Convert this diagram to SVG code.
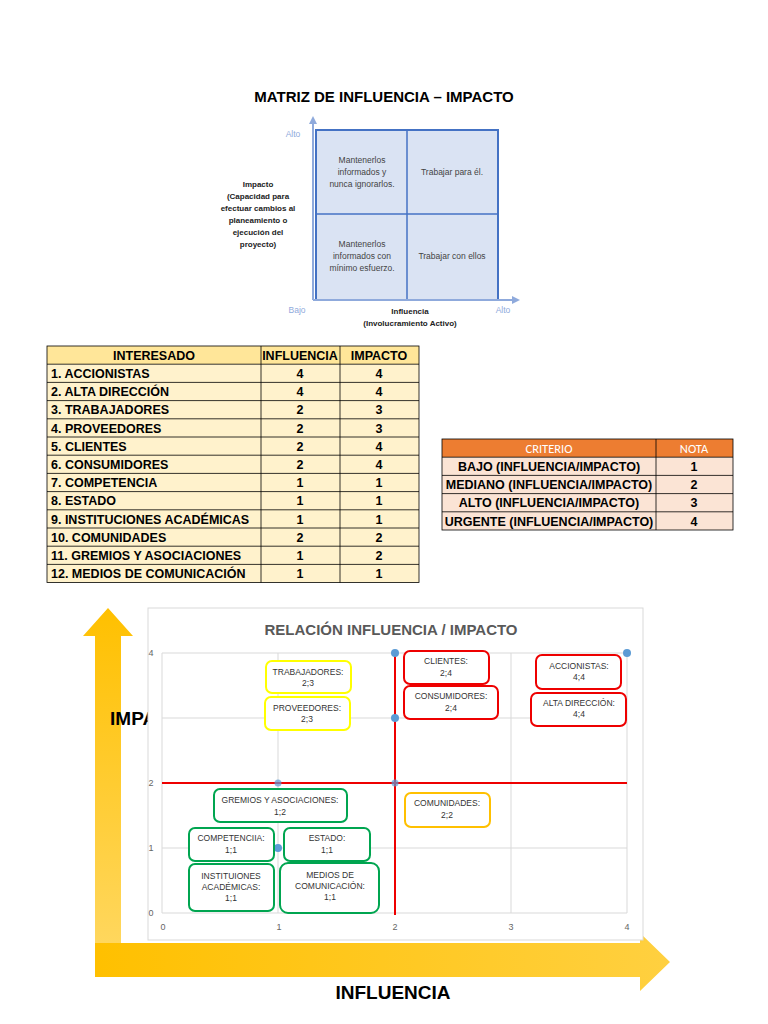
<svg xmlns="http://www.w3.org/2000/svg" width="768" height="1024" viewBox="0 0 768 1024">
<style>
text{font-family:"Liberation Sans",Arial,sans-serif}
.t{font-family:Calibri,"Carlito","Liberation Sans",sans-serif}
.c{font-size:12.5px;font-weight:bold;fill:#000}
.m{font-size:8.5px;fill:#444;text-anchor:middle}
.b{font-size:8px;fill:#222;text-anchor:middle;font-weight:bold}
.cell{stroke:#000;stroke-width:0.8}
.lb{font-size:8.5px;fill:#333;text-anchor:middle}
.ax{font-size:9px;fill:#666;text-anchor:middle}
.gr{stroke:#d9d9d9;stroke-width:1}
</style>
<defs>
<linearGradient id="gv" x1="0" y1="0" x2="0" y2="1"><stop offset="0" stop-color="#ffc000"/><stop offset="1" stop-color="#ffd966"/></linearGradient>
<linearGradient id="gh" x1="0" y1="0" x2="1" y2="0"><stop offset="0" stop-color="#ffc000"/><stop offset="1" stop-color="#ffd040"/></linearGradient>
</defs>
<rect width="768" height="1024" fill="#fff"/>
<text x="384" y="102" text-anchor="middle" font-size="15" font-weight="bold">MATRIZ DE INFLUENCIA – IMPACTO</text>

<g id="matriz">
<rect x="316" y="130" width="182" height="170" fill="#dae3f3" stroke="#4472c4" stroke-width="2"/>
<line x1="407" y1="130" x2="407" y2="300" stroke="#4472c4" stroke-width="1.5"/>
<line x1="316" y1="214" x2="498" y2="214" stroke="#4472c4" stroke-width="1.5"/>
<line x1="313" y1="300" x2="313" y2="122" stroke="#8faadc" stroke-width="2"/>
<polygon points="313,116 309,124 317,124" fill="#8faadc"/>
<line x1="313" y1="300" x2="514" y2="300" stroke="#8faadc" stroke-width="2"/>
<polygon points="520,300 512,296 512,304" fill="#8faadc"/>
<text class="m" x="362" y="163">Mantenerlos</text><text class="m" x="362" y="175">informados y</text><text class="m" x="362" y="187">nunca ignorarlos.</text>
<text class="m" x="452" y="175">Trabajar para él.</text>
<text class="m" x="362" y="247">Mantenerlos</text><text class="m" x="362" y="259">informados con</text><text class="m" x="362" y="271">mínimo esfuerzo.</text>
<text class="m" x="452" y="259">Trabajar con ellos</text>
<text x="293" y="137" font-size="8.5" fill="#8faadc" text-anchor="middle">Alto</text>
<text x="297" y="313" font-size="8.5" fill="#8faadc" text-anchor="middle">Bajo</text>
<text x="503" y="313" font-size="8.5" fill="#8faadc" text-anchor="middle">Alto</text>
<text class="b" x="258" y="187">Impacto</text><text class="b" x="258" y="199">(Capacidad para</text><text class="b" x="258" y="211">efectuar cambios al</text><text class="b" x="258" y="223">planeamiento o</text><text class="b" x="258" y="235">ejecución del</text><text class="b" x="258" y="247">proyecto)</text>
<text class="b" x="410" y="314">Influencia</text><text class="b" x="410" y="326">(Involucramiento Activo)</text>
</g>

<g id="tabla-interesados">
<rect x="47" y="346" width="372" height="18.2" fill="#ffe699"/>
<rect x="47" y="364.2" width="372" height="218.4" fill="#fff2cc"/>
<g class="cell" fill="none">
<rect x="47" y="346" width="372" height="236.6"/>
<line x1="261" y1="346" x2="261" y2="582.6"/><line x1="340" y1="346" x2="340" y2="582.6"/>
<line x1="47" y1="364.2" x2="419" y2="364.2"/><line x1="47" y1="382.4" x2="419" y2="382.4"/><line x1="47" y1="400.6" x2="419" y2="400.6"/><line x1="47" y1="418.8" x2="419" y2="418.8"/><line x1="47" y1="437" x2="419" y2="437"/><line x1="47" y1="455.2" x2="419" y2="455.2"/><line x1="47" y1="473.4" x2="419" y2="473.4"/><line x1="47" y1="491.6" x2="419" y2="491.6"/><line x1="47" y1="509.8" x2="419" y2="509.8"/><line x1="47" y1="528" x2="419" y2="528"/><line x1="47" y1="546.2" x2="419" y2="546.2"/><line x1="47" y1="564.4" x2="419" y2="564.4"/>
</g>
<g class="t c">
<text x="154" y="360" text-anchor="middle">INTERESADO</text><text x="300" y="360" text-anchor="middle">INFLUENCIA</text><text x="379" y="360" text-anchor="middle">IMPACTO</text>
</g>
<g class="t c">
<text x="51" y="378">1. ACCIONISTAS</text><text x="51" y="396.2">2. ALTA DIRECCIÓN</text><text x="51" y="414.4">3. TRABAJADORES</text><text x="51" y="432.6">4. PROVEEDORES</text><text x="51" y="450.8">5. CLIENTES</text><text x="51" y="469">6. CONSUMIDORES</text><text x="51" y="487.2">7. COMPETENCIA</text><text x="51" y="505.4">8. ESTADO</text><text x="51" y="523.6">9. INSTITUCIONES ACADÉMICAS</text><text x="51" y="541.8">10. COMUNIDADES</text><text x="51" y="560">11. GREMIOS Y ASOCIACIONES</text><text x="51" y="578.2">12. MEDIOS DE COMUNICACIÓN</text>
</g>
<g class="t c" text-anchor="middle">
<text x="300" y="378">4</text><text x="379" y="378">4</text>
<text x="300" y="396.2">4</text><text x="379" y="396.2">4</text>
<text x="300" y="414.4">2</text><text x="379" y="414.4">3</text>
<text x="300" y="432.6">2</text><text x="379" y="432.6">3</text>
<text x="300" y="450.8">2</text><text x="379" y="450.8">4</text>
<text x="300" y="469">2</text><text x="379" y="469">4</text>
<text x="300" y="487.2">1</text><text x="379" y="487.2">1</text>
<text x="300" y="505.4">1</text><text x="379" y="505.4">1</text>
<text x="300" y="523.6">1</text><text x="379" y="523.6">1</text>
<text x="300" y="541.8">2</text><text x="379" y="541.8">2</text>
<text x="300" y="560">1</text><text x="379" y="560">2</text>
<text x="300" y="578.2">1</text><text x="379" y="578.2">1</text>
</g>
</g>

<g id="tabla-criterio">
<rect x="442" y="439" width="291" height="18.2" fill="#ed7d31"/>
<rect x="442" y="457.2" width="291" height="72.8" fill="#fbe4d5"/>
<g class="cell" fill="none">
<rect x="442" y="439" width="291" height="91"/>
<line x1="656" y1="439" x2="656" y2="530"/>
<line x1="442" y1="457.2" x2="733" y2="457.2"/><line x1="442" y1="475.4" x2="733" y2="475.4"/><line x1="442" y1="493.6" x2="733" y2="493.6"/><line x1="442" y1="511.8" x2="733" y2="511.8"/>
</g>
<text class="t" x="549" y="453" text-anchor="middle" font-size="12.5" fill="#fff">CRITERIO</text>
<text class="t" x="694" y="453" text-anchor="middle" font-size="12.5" fill="#fff">NOTA</text>
<g class="t c" text-anchor="middle">
<text x="549" y="471">BAJO (INFLUENCIA/IMPACTO)</text><text x="694" y="471">1</text>
<text x="549" y="489.2">MEDIANO (INFLUENCIA/IMPACTO)</text><text x="694" y="489.2">2</text>
<text x="549" y="507.4">ALTO (INFLUENCIA/IMPACTO)</text><text x="694" y="507.4">3</text>
<text x="549" y="525.6">URGENTE (INFLUENCIA/IMPACTO)</text><text x="694" y="525.6">4</text>
</g>
</g>

<g id="flechas-grandes">
<polygon points="108,608 133,636 121,636 121,975 95,975 95,636 83,636" fill="url(#gv)"/>
<polygon points="95,943 640,943 640,933 670,962 640,991 640,977 95,977" fill="url(#gh)"/>
<text x="153" y="725" text-anchor="middle" font-size="19" font-weight="bold">IMPACTO</text>
<text x="393" y="999" text-anchor="middle" font-size="19" font-weight="bold">INFLUENCIA</text>
</g>

<g id="grafico">
<rect x="148" y="608" width="495" height="332" fill="#fff" stroke="#d9d9d9"/>
<text x="391" y="635" text-anchor="middle" font-size="15" font-weight="bold" fill="#595959">RELACIÓN INFLUENCIA / IMPACTO</text>
<g class="gr">
<line x1="162" y1="653" x2="627" y2="653"/><line x1="162" y1="718" x2="627" y2="718"/><line x1="162" y1="848" x2="627" y2="848"/><line x1="162" y1="913" x2="627" y2="913"/>
<line x1="162" y1="653" x2="162" y2="913"/><line x1="278" y1="653" x2="278" y2="913"/><line x1="511" y1="653" x2="511" y2="913"/><line x1="627" y1="653" x2="627" y2="913"/>
</g>
<g class="ax"><text x="151" y="656">4</text><text x="151" y="786">2</text><text x="151" y="851">1</text><text x="151" y="916">0</text>
<text x="163" y="930">0</text><text x="279" y="930">1</text><text x="395" y="930">2</text><text x="511" y="930">3</text><text x="627" y="930">4</text></g>
<line x1="162" y1="783" x2="627" y2="783" stroke="#e00" stroke-width="2"/>
<line x1="395" y1="653" x2="395" y2="915" stroke="#e00" stroke-width="2"/>
<g fill="#5b9bd5"><circle cx="395" cy="653" r="4"/><circle cx="627" cy="653" r="4"/><circle cx="395" cy="718" r="4"/><circle cx="278" cy="783" r="3.5" opacity="0.7"/><circle cx="395" cy="783" r="3.5" opacity="0.7"/><circle cx="278" cy="848" r="4"/></g>
</g>

<g id="etiquetas" fill="#fff" stroke-width="2">
<g id="n-trabajadores"><rect x="266" y="661" width="85" height="32" rx="6" stroke="#ffff00"/><text class="lb" x="308" y="675">TRABAJADORES:</text><text class="lb" x="308" y="686">2;3</text></g>
<g id="n-proveedores"><rect x="265" y="697" width="85" height="33" rx="6" stroke="#ffff00"/><text class="lb" x="307" y="711">PROVEEDORES:</text><text class="lb" x="307" y="722">2;3</text></g>
<g id="n-clientes"><rect x="404" y="651" width="85" height="33" rx="6" stroke="#e00"/><text class="lb" x="446" y="664">CLIENTES:</text><text class="lb" x="446" y="676">2;4</text></g>
<g id="n-consumidores"><rect x="404" y="686" width="94" height="33" rx="6" stroke="#e00"/><text class="lb" x="451" y="699">CONSUMIDORES:</text><text class="lb" x="451" y="711">2;4</text></g>
<g id="n-accionistas"><rect x="536" y="655" width="85" height="34" rx="6" stroke="#e00"/><text class="lb" x="579" y="669">ACCIONISTAS:</text><text class="lb" x="579" y="680">4;4</text></g>
<g id="n-alta"><rect x="531" y="693" width="95" height="33" rx="6" stroke="#e00"/><text class="lb" x="579" y="706">ALTA DIRECCIÓN:</text><text class="lb" x="579" y="717">4;4</text></g>
<g id="n-gremios"><rect x="214" y="789" width="133" height="33" rx="6" stroke="#00a550"/><text class="lb" x="280" y="803">GREMIOS Y ASOCIACIONES:</text><text class="lb" x="280" y="815">1;2</text></g>
<g id="n-comunidades"><rect x="405" y="793" width="85" height="34" rx="6" stroke="#ffc000"/><text class="lb" x="447" y="806">COMUNIDADES:</text><text class="lb" x="447" y="818">2;2</text></g>
<g id="n-competencia"><rect x="189" y="828" width="85" height="33" rx="6" stroke="#00a550"/><text class="lb" x="231" y="841">COMPETENCIIA:</text><text class="lb" x="231" y="853">1;1</text></g>
<g id="n-estado"><rect x="284" y="828" width="86" height="33" rx="6" stroke="#00a550"/><text class="lb" x="327" y="841">ESTADO:</text><text class="lb" x="327" y="853">1;1</text></g>
<g id="n-instituciones"><rect x="189" y="864" width="85" height="47" rx="6" stroke="#00a550"/><text class="lb" x="231" y="879">INSTITUIONES</text><text class="lb" x="231" y="890">ACADÉMICAS:</text><text class="lb" x="231" y="901">1;1</text></g>
<g id="n-medios"><rect x="280" y="863" width="99" height="50" rx="8" stroke="#00a550"/><text class="lb" x="330" y="878">MEDIOS DE</text><text class="lb" x="330" y="889">COMUNICACIÓN:</text><text class="lb" x="330" y="900">1;1</text></g>
</g>
</svg>
